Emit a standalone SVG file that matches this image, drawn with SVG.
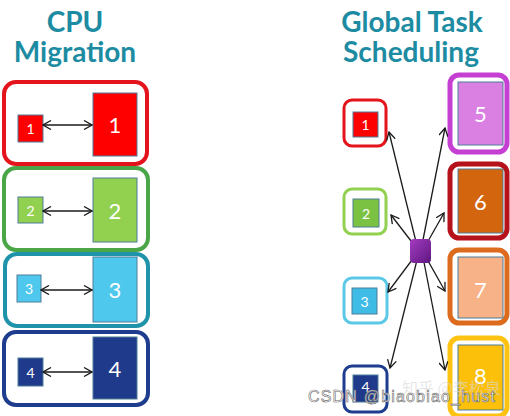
<svg xmlns="http://www.w3.org/2000/svg" width="510" height="416" viewBox="0 0 510 416">
<defs>
<style>
.title{font-family:Lato,"Open Sans","Liberation Sans",sans-serif;font-weight:700;fill:#1d8ca2;text-anchor:middle;font-size:28px}
.num{font-family:Lato,"Open Sans","Liberation Sans",sans-serif;fill:#fff;text-anchor:middle;dominant-baseline:central}
.s{font-size:14px}
.l{font-size:22px}
.inner{stroke:#4f7c99;stroke-width:1}
.frame{fill:none}
.conn{stroke:#1a1a1a;stroke-width:1.3;fill:none}
</style>
<marker id="ah" viewBox="0 0 10 10" refX="9" refY="5" markerWidth="10" markerHeight="10" markerUnits="userSpaceOnUse" orient="auto-start-reverse">
<path d="M1,0.5 L9,5 L1,9.5" fill="none" stroke="#1a1a1a" stroke-width="1.3"/>
</marker>
<linearGradient id="hubg" x1="0" y1="0" x2="1" y2="1">
<stop offset="0" stop-color="#a43cc0"/>
<stop offset="1" stop-color="#5e1680"/>
</linearGradient>
</defs>
<rect width="510" height="416" fill="#fff"/>

<text class="title" x="75" y="32">CPU</text>
<text class="title" x="75" y="62">Migration</text>
<text class="title" x="412" y="32">Global Task</text>
<text class="title" x="411" y="62">Scheduling</text>

<g id="cpu1">
<rect class="frame" x="4" y="82" width="143" height="82" rx="12" stroke="#e3141b" stroke-width="4"/>
<rect class="inner" x="18" y="115" width="25" height="27" fill="#ff0000"/>
<text class="num s" x="30.5" y="128.5">1</text>
<rect class="inner" x="93" y="93" width="44" height="63" fill="#ff0000"/>
<text class="num l" x="115" y="124.5">1</text>
</g>
<g id="cpu2">
<rect class="frame" x="4" y="168" width="144" height="82" rx="12" stroke="#4aa646" stroke-width="4"/>
<rect class="inner" x="18" y="197" width="25" height="26" fill="#92d050"/>
<text class="num s" x="30.5" y="210">2</text>
<rect class="inner" x="93" y="178" width="44" height="64" fill="#92d050"/>
<text class="num l" x="115" y="210">2</text>
</g>
<g id="cpu3">
<rect class="frame" x="5" y="254" width="143" height="72" rx="12" stroke="#1e93aa" stroke-width="4"/>
<rect class="inner" x="17" y="275" width="24" height="27" fill="#4ec8ec"/>
<text class="num s" x="29" y="288.5">3</text>
<rect class="inner" x="93" y="257" width="44" height="65" fill="#4ec8ec"/>
<text class="num l" x="115" y="289.5">3</text>
</g>
<g id="cpu4">
<rect class="frame" x="4" y="332" width="144" height="73" rx="12" stroke="#1f3d8f" stroke-width="4"/>
<rect class="inner" x="18" y="358" width="25" height="28" fill="#1f3a8a"/>
<text class="num s" x="30.5" y="372">4</text>
<rect class="inner" x="93" y="337" width="44" height="62" fill="#1f3a8a"/>
<text class="num l" x="115" y="368">4</text>
</g>

<g id="task1">
<rect class="frame" x="344" y="100" width="42" height="46" rx="8" stroke="#e3141b" stroke-width="3"/>
<rect class="inner" x="353" y="112" width="25" height="25" fill="#ff0000"/>
<text class="num s" x="365.5" y="124.5">1</text>
</g>
<g id="task2">
<rect class="frame" x="344" y="189" width="42" height="45" rx="8" stroke="#92d050" stroke-width="3"/>
<rect class="inner" x="353" y="199" width="26" height="28" fill="#7cc242"/>
<text class="num s" x="366" y="213">2</text>
</g>
<g id="task3">
<rect class="frame" x="344" y="278" width="43" height="45" rx="8" stroke="#5cc8e8" stroke-width="3"/>
<rect class="inner" x="352" y="288" width="25" height="26" fill="#3fbce6"/>
<text class="num s" x="364.5" y="301">3</text>
</g>
<g id="task4">
<rect class="frame" x="344" y="366" width="43" height="46" rx="8" stroke="#1f3d8f" stroke-width="3"/>
<rect class="inner" x="353" y="375" width="25" height="27" fill="#1f3a8a"/>
<text class="num s" x="365.5" y="386">4</text>
</g>

<g id="core5">
<rect class="frame" x="450" y="75" width="57" height="77" rx="9" stroke="#c53fd3" stroke-width="5"/>
<rect class="inner" x="458" y="82" width="45" height="63" fill="#da80e2"/>
<text class="num l" x="480.5" y="113.5">5</text>
</g>
<g id="core6">
<rect class="frame" x="450" y="164" width="57" height="74" rx="9" stroke="#b5121b" stroke-width="5"/>
<rect class="inner" x="458" y="169" width="45" height="64" fill="#d4650f"/>
<text class="num l" x="480.5" y="201">6</text>
</g>
<g id="core7">
<rect class="frame" x="450" y="250" width="57" height="73" rx="9" stroke="#dd6b1e" stroke-width="5"/>
<rect class="inner" x="458" y="257" width="45" height="61" fill="#f7b287"/>
<text class="num l" x="480.5" y="289">7</text>
</g>
<g id="core8">
<rect class="frame" x="450" y="338" width="57" height="78" rx="9" stroke="#fec312" stroke-width="5"/>
<rect class="inner" x="458" y="345" width="45" height="65" fill="#fcbf0a"/>
<text class="num l" x="480.5" y="375">8</text>
</g>

<g id="connectors">
<line class="conn" x1="43" y1="125" x2="92" y2="125" marker-start="url(#ah)" marker-end="url(#ah)"/>
<line class="conn" x1="43" y1="211" x2="92" y2="211" marker-start="url(#ah)" marker-end="url(#ah)"/>
<line class="conn" x1="41" y1="290" x2="92" y2="290" marker-start="url(#ah)" marker-end="url(#ah)"/>
<line class="conn" x1="43" y1="372" x2="92" y2="372" marker-start="url(#ah)" marker-end="url(#ah)"/>
<line class="conn" x1="418" y1="250" x2="389" y2="132" marker-end="url(#ah)"/>
<line class="conn" x1="421" y1="250" x2="445" y2="128" marker-end="url(#ah)"/>
<line class="conn" x1="418" y1="250" x2="391" y2="215" marker-end="url(#ah)"/>
<line class="conn" x1="423" y1="250" x2="444" y2="213" marker-end="url(#ah)"/>
<line class="conn" x1="418" y1="252" x2="388" y2="292" marker-end="url(#ah)"/>
<line class="conn" x1="423" y1="252" x2="445" y2="291" marker-end="url(#ah)"/>
<line class="conn" x1="419" y1="252" x2="390" y2="368" marker-end="url(#ah)"/>
<line class="conn" x1="422" y1="252" x2="445" y2="370" marker-end="url(#ah)"/>
</g>

<g id="hub">
<rect x="410" y="239" width="21" height="24" rx="4" fill="url(#hubg)"/>
</g>

<g id="watermark">
<text x="402" y="394" font-family="'Noto Sans CJK SC',sans-serif" font-size="16" fill="#d8d8d8" fill-opacity="0.6">知乎 @李松泉</text>
<text x="308" y="402" font-family="'Liberation Sans',Arial,sans-serif" font-size="16" fill="#ffffff" stroke="#6a6a6a" stroke-width="0.6" textLength="187">CSDN @biaobiao_hust</text>
</g>
</svg>
